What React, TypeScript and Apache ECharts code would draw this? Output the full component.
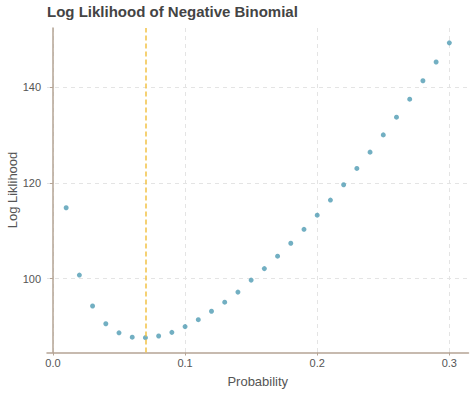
import React, { useEffect, useRef } from "react";
import * as echarts from "echarts";

const probability = [0.01, 0.02, 0.03, 0.04, 0.05, 0.06, 0.07, 0.08, 0.09, 0.1, 0.11, 0.12, 0.13, 0.14, 0.15, 0.16, 0.17, 0.18, 0.19, 0.2, 0.21, 0.22, 0.23, 0.24, 0.25, 0.26, 0.27, 0.28, 0.29, 0.3];
const logLik = [114.8, 100.75, 94.3, 90.6, 88.7, 87.8, 87.7, 88.05, 88.8, 90.0, 91.45, 93.2, 95.1, 97.2, 99.7, 102.1, 104.7, 107.4, 110.3, 113.25, 116.4, 119.6, 123.0, 126.4, 130.0, 133.7, 137.45, 141.3, 145.2, 149.2];
const xTicks = [0, 0.1, 0.2, 0.3];
const yTicks = [100, 120, 140];
const bestP = 0.07;

export default function App() {
  const ref = useRef<HTMLDivElement>(null);
  useEffect(() => {
    if (!ref.current) return;
    const chart = echarts.init(ref.current, null, { renderer: "svg" });
    const axisColor = "#b5a495";
    const font = "Liberation Sans, Arial, sans-serif";
    chart.setOption({
      animation: false,
      backgroundColor: "#ffffff",
      title: {
        text: "Log Liklihood of Negative Binomial",
        left: 47,
        top: 4,
        padding: 0,
        textStyle: { fontFamily: font, fontSize: 15, fontWeight: "bold", color: "#444444" },
      },
      graphic: [
        {
          type: "text",
          x: 12,
          y: 190,
          rotation: Math.PI / 2,
          style: {
            text: "Log Liklihood",
            fontFamily: font,
            fontSize: 13,
            fill: "#555555",
            align: "center",
            verticalAlign: "middle",
          },
        },
      ],
      grid: { left: 47, right: 5.5, top: 28, bottom: 42.5, containLabel: false, outerBoundsMode: "none" },
      xAxis: {
        type: "value",
        min: -0.0045,
        max: 0.3145,
        name: "Probability",
        nameLocation: "middle",
        nameGap: 22,
        nameTextStyle: { fontFamily: font, fontSize: 13, color: "#555555" },
        axisLine: { show: true, lineStyle: { color: axisColor, width: 1.5 } },
        axisTick: { show: true, length: 3, customValues: xTicks, lineStyle: { color: axisColor } },
        axisLabel: {
          customValues: xTicks,
          fontFamily: font,
          fontSize: 11,
          color: "#555555",
          margin: 5,
          formatter: (v: number) => v.toFixed(1),
        },
        splitLine: { show: true, lineStyle: { color: "#e4e4e4", type: [4, 4] } },
      },
      yAxis: {
        type: "value",
        min: 84.6,
        max: 152.3,
        axisLine: { show: true, lineStyle: { color: axisColor, width: 1.5 } },
        axisTick: { show: true, length: 3, customValues: yTicks, lineStyle: { color: axisColor } },
        axisLabel: {
          customValues: yTicks,
          fontFamily: font,
          fontSize: 11,
          color: "#555555",
          margin: 6,
        },
        splitLine: { show: true, lineStyle: { color: "#e4e4e4", type: [4, 4] } },
      },
      series: [
        {
          type: "scatter",
          data: probability.map((p, i) => [p, logLik[i]]),
          symbolSize: 5,
          itemStyle: { color: "#4f9bb3" },
          markLine: {
            silent: true,
            symbol: "none",
            label: { show: false },
            lineStyle: { color: "#f2c245", type: [5, 3], width: 1.5 },
            data: [{ xAxis: bestP }],
          },
        },
      ],
    });
    return () => chart.dispose();
  }, []);
  return (
    <div
      ref={ref}
      style={{ position: "absolute", left: 0, top: 0, width: 474, height: 395, background: "#fff" }}
    />
  );
}
